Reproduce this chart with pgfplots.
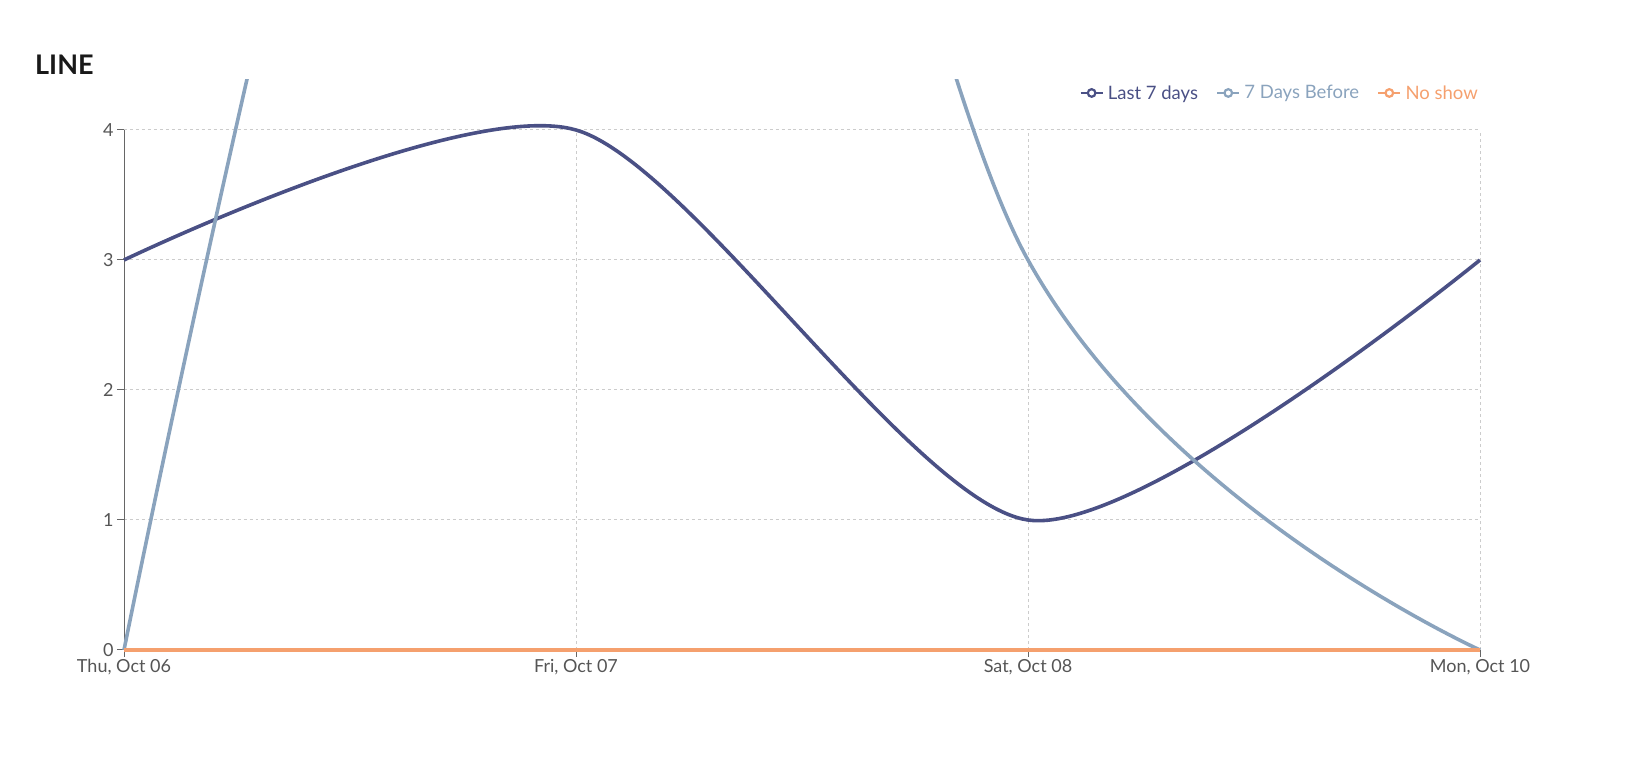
\documentclass[border=0pt]{standalone}
\usepackage{pgfplots}
\pgfplotsset{compat=1.18}
\usepackage{fontspec}
\setmainfont{Lato}

\definecolor{lastc}{HTML}{4A5085}
\definecolor{beforec}{HTML}{8AA3BD}
\definecolor{noshowc}{HTML}{F5A06E}
\definecolor{tickc}{HTML}{555555}
\definecolor{axisc}{HTML}{666666}
\definecolor{gridc}{HTML}{CCCCCC}

\pgfplotsset{
  legmark/.style={legend image code/.code={
    \draw[line width=2.4bp] (0bp,0bp) -- (22bp,0bp);
    \draw[line width=2.2bp, fill=white] (11bp,0bp) circle (3.8bp);}}
}

\begin{document}
\begin{tikzpicture}
\useasboundingbox (0,0) rectangle (1630bp,782bp);
\node[anchor=base west, font=\fontsize{27bp}{31bp}\selectfont\bfseries, text=black!90, inner sep=0]
  at (35bp,707bp) {LINE};
\begin{axis}[
  at={(124bp,132bp)}, anchor=south west,
  scale only axis, width=1356bp, height=520bp,
  xmin=0, xmax=3, ymin=0, ymax=4,
  clip=false,
  axis lines=left, axis line style={-, axisc, line width=1bp},
  tick align=outside, major tick length=7bp,
  tick style={axisc, line width=1bp},
  xtick={0,1,2,3},
  xticklabels={{Thu, Oct 06},{Fri, Oct 07},{Sat, Oct 08},{Mon, Oct 10}},
  ytick={0,1,2,3,4},
  grid=major, grid style={dashed, gridc, line width=1bp},
  ticklabel style={font=\fontsize{18bp}{21bp}\selectfont, text=tickc},
  /pgf/number format/assume math mode=true,
  xticklabel style={yshift=1bp},
  legend columns=3,
  legend style={at={(rel axis cs:1,1.0712)}, anchor=east, draw=none, fill=none,
    inner sep=0pt, font=\fontsize{18.5bp}{22bp}\selectfont,
    /tikz/every odd column/.append style={column sep=2bp},
    /tikz/every even column/.append style={column sep=16bp}},
  legend cell align=left,
]
\addplot[lastc, line width=3.6bp, smooth, tension=0.45, legmark] coordinates {
  (0,3) (1,4) (2,1) (3,3)
};
\addlegendentry{\textcolor{lastc}{Last 7 days}}

\begin{scope}
\clip (axis cs:-0.1,-0.5) rectangle (axis cs:3.1,4.385);
\addplot[beforec, line width=3.6bp, smooth, tension=0.55, legmark] coordinates {
  (0,0) (1,12.5) (2,3) (3,0)
};
\addlegendentry{\textcolor{beforec}{7 Days Before}}
\end{scope}

\addplot[noshowc, line width=4.2bp, legmark] coordinates {
  (0,0) (1,0) (2,0) (3,0)
};
\addlegendentry{\textcolor{noshowc}{No show}}
\end{axis}
\end{tikzpicture}
\end{document}
